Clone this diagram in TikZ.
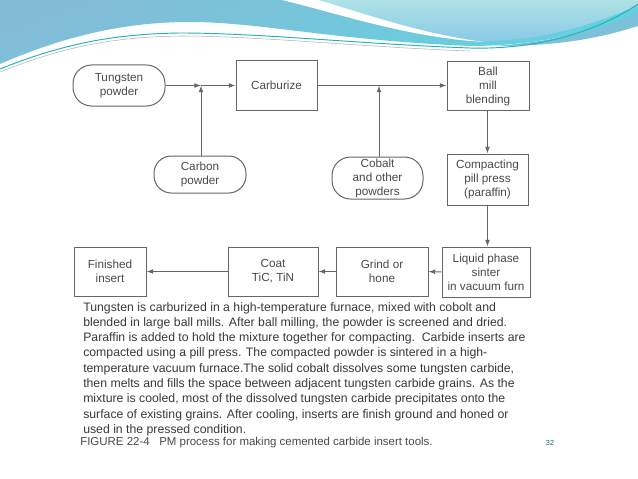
\documentclass[tikz,border=0pt]{standalone}
\usepackage{fontspec}
\setmainfont{Liberation Sans}
\usetikzlibrary{arrows.meta}
\definecolor{ink}{HTML}{4A4A4A}
\definecolor{ptext}{HTML}{3A3A3A}
\definecolor{edge}{HTML}{666666}
\definecolor{blueA}{HTML}{84BCD8}
\definecolor{blueB}{HTML}{62D2E0}
\definecolor{cyanA}{HTML}{AEE2E6}
\definecolor{cyanB}{HTML}{8ACAE6}
\definecolor{tealline}{HTML}{22B2B4}
\begin{document}
\begin{tikzpicture}[x=0.75pt,y=-0.75pt,
  every node/.style={text=ink,font=\fontsize{8.8}{10.5}\selectfont,align=center,inner sep=1pt},
  procbox/.style={draw=edge,line width=0.75pt,rectangle},
  feedbox/.style={draw=edge,line width=0.75pt,rectangle,rounded corners=14pt},
  arr/.style={draw=edge,line width=0.7pt,-{Latex[length=5pt,width=3.6pt]}},
  ln/.style={draw=edge,line width=0.7pt}]
\useasboundingbox (0,0) rectangle (638,478);
\fill[white] (0,0) rectangle (638,478);
% header waves
\shade[top color=blueA,bottom color=blueB,shading angle=20]
  (0,0) -- (0,64) .. controls (60,38) and (120,22) .. (190,22)
  .. controls (260,22) and (330,40) .. (470,46)
  .. controls (540,46) and (600,30) .. (638,16) -- (638,0) -- cycle;
\shade[top color=cyanA,bottom color=cyanB]
  (300,0) .. controls (360,14) and (420,40) .. (485,41)
  .. controls (550,41) and (610,18) .. (638,5) -- (638,0) -- cycle;
\fill[white] (282,0) .. controls (340,14) and (410,38) .. (485,42)
  .. controls (420,34) and (360,12) .. (318,0) -- cycle;
\fill[blueA!80!blueB] (495,46) .. controls (570,40) and (610,26) .. (638,12)
  -- (638,26) .. controls (600,38) and (560,46) .. (495,46) -- cycle;
\draw[tealline,line width=0.7pt] (0,69) .. controls (60,45) and (110,34) .. (180,33)
  .. controls (260,33) and (360,44) .. (470,48)
  .. controls (540,50) and (600,30) .. (638,4);
\draw[gray!60,line width=0.4pt] (0,72) .. controls (60,48) and (110,37) .. (180,36)
  .. controls (260,36) and (360,47) .. (470,51);
% nodes
\node[feedbox,minimum width=69pt,minimum height=30.75pt] (tung) at (119,85.5) {Tungsten\\powder};
\node[procbox,minimum width=60.75pt,minimum height=36.75pt] (carb) at (276.5,85.5) {Carburize};
\node[feedbox,rounded corners=13pt,minimum width=69pt,minimum height=27.75pt] (carbon) at (200,174.5) {Carbon\\powder};
\node[procbox,minimum width=61.5pt,minimum height=36.75pt] (ball) at (488,86) {Ball\\mill\\blending};
\node[feedbox,minimum width=68.25pt,minimum height=31.5pt,inner sep=0pt] (cobalt) at (377.5,178) {Cobalt\\and other\\powders};
\node[procbox,minimum width=60.75pt,minimum height=38.25pt] (comp) at (487.5,179.5) {Compacting\\pill press\\(paraffin)};
\node[procbox,inner sep=0pt,minimum width=66pt,minimum height=37.5pt] (sinter) at (486,272) {Liquid phase\\sinter\\in vacuum furn};
\node[procbox,minimum width=69pt,minimum height=36.75pt] (grind) at (382,271.5) {Grind or\\hone};
\node[procbox,minimum width=67.5pt,minimum height=36.75pt] (coat) at (273,271.5) {Coat\\TiC, TiN};
\node[procbox,minimum width=54pt,minimum height=36.75pt] (fin) at (110,271.5) {Finished\\insert};
\coordinate (j1) at (201,85.5);
\coordinate (j2) at (379,85.5);
% connectors
\draw[arr] (tung.east) -- (j1);
\draw[arr] (j1) -- (carb.west);
\draw[arr] (carbon.north -| j1) -- (j1);
\draw[ln] (carb.east) -- (j2);
\draw[arr] (j2) -- (j2 -| ball.west);
\draw[arr] (cobalt.north -| j2) -- (j2);
\draw[arr] (ball.south -| comp.north) -- (comp.north);
\draw[arr] (comp.south) -- (sinter.north -| comp.south);
\draw[arr] (sinter.west) -- (grind.east);
\draw[arr] (grind.west) -- (coat.east);
\draw[arr] (coat.west) -- (fin.east);
% paragraph
\node[anchor=north west,inner sep=0pt,align=left,text=ptext,font=\fontsize{9.2}{11.45}\selectfont] (para) at (83,302)
{Tungsten is carburized in a high-temperature furnace, mixed with cobolt and\\
blended in large ball mills. After ball milling, the powder is screened and dried.\\
Paraffin is added to hold the mixture together for compacting.\ \ Carbide inserts are\\
compacted using a pill press. The compacted powder is sintered in a high-\\
temperature vacuum furnace.The solid cobalt dissolves some tungsten carbide,\\
then melts and fills the space between adjacent tungsten carbide grains. As the\\
mixture is cooled, most of the dissolved tungsten carbide precipitates onto the\\
surface of existing grains. After cooling, inserts are finish ground and honed or\\
used in the pressed condition.};
\node[anchor=west,inner sep=0pt,font=\fontsize{8.6}{10}\selectfont] (cap) at (80,443)
{FIGURE 22-4\ \ \ PM process for making cemented carbide insert tools.};
\node[inner sep=0pt,text=tealline!60!black,font=\fontsize{5.5}{6}\selectfont] (pg) at (550,443) {32};
\end{tikzpicture}
\end{document}
